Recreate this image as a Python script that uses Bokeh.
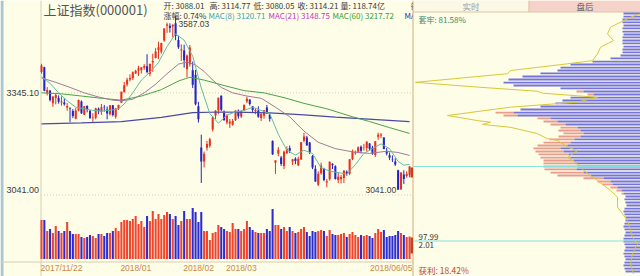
from bokeh.plotting import figure
from bokeh.models import Range1d, ColumnDataSource
from bokeh.core.properties import value
from bokeh.embed import file_html
from bokeh.resources import INLINE

# ---------------- data ----------------
opens = [3410, 3425, 3345, 3352, 3312, 3329, 3329, 3315, 3315, 3299,
         3296, 3288, 3264, 3290, 3318, 3276, 3304, 3289, 3265, 3267,
         3295, 3286, 3298, 3293, 3278, 3306, 3270, 3295, 3314, 3347,
         3371, 3387, 3391, 3406, 3414, 3416, 3424, 3428, 3405, 3440,
         3454, 3479, 3474, 3509, 3555, 3555, 3553, 3563, 3511, 3478,
         3478, 3419, 3435, 3416, 3402, 3303, 3174, 3130, 3173, 3179,
         3230, 3274, 3290, 3336, 3282, 3252, 3249, 3245, 3259, 3289,
         3271, 3289, 3318, 3324, 3303, 3287, 3290, 3266, 3273, 3299,
         3276, 3194, 3126, 3155, 3142, 3116, 3155, 3172, 3130, 3139,
         3118, 3136, 3195, 3205, 3189, 3147, 3107, 3057, 3093, 3107,
         3064, 3074, 3123, 3115, 3072, 3074, 3078, 3098, 3091, 3137,
         3156, 3160, 3176, 3173, 3172, 3186, 3173, 3150, 3207, 3211,
         3205, 3163, 3149, 3136, 3130, 3102, 3042, 3089, 3084, 3088.01]
highs = [3436, 3427, 3363, 3353, 3334, 3343, 3337, 3334, 3328, 3313,
         3300, 3294, 3297, 3324, 3321, 3304, 3306, 3291, 3281, 3298,
         3299, 3310, 3307, 3302, 3306, 3307, 3297, 3308, 3349, 3379,
         3392, 3403, 3412, 3417, 3430, 3426, 3435, 3466, 3436, 3468,
         3485, 3505, 3502, 3547, 3565, 3563, 3560, 3587.03, 3524, 3497,
         3496, 3465, 3495, 3443, 3417, 3317, 3214, 3161, 3194, 3204,
         3272, 3291, 3330, 3337, 3290, 3278, 3263, 3263, 3290, 3293,
         3289, 3309, 3333, 3325, 3304, 3297, 3303, 3281, 3291, 3307,
         3280, 3196, 3133, 3175, 3147, 3164, 3177, 3180, 3138, 3143,
         3145, 3191, 3220, 3210, 3191, 3150, 3118, 3099, 3126, 3110,
         3075, 3130, 3124, 3118, 3095, 3088, 3103, 3102, 3137, 3167,
         3164, 3177, 3180, 3185, 3192, 3188, 3179, 3194, 3220, 3219,
         3206, 3172, 3158, 3149, 3140, 3104, 3096, 3102, 3099, 3114.77]
lows = [3405, 3350, 3337, 3318, 3301, 3309, 3311, 3305, 3305, 3289,
        3254, 3266, 3262, 3287, 3279, 3275, 3284, 3263, 3254, 3262,
        3278, 3276, 3286, 3262, 3274, 3271, 3264, 3291, 3314, 3346,
        3365, 3381, 3385, 3404, 3398, 3406, 3417, 3406, 3397, 3411,
        3453, 3451, 3468, 3505, 3533, 3534, 3519, 3510, 3483, 3445,
        3424, 3394, 3427, 3360, 3306, 3252, 3062.7, 3111, 3164, 3173,
        3224, 3263, 3278, 3288, 3258, 3246, 3235, 3242, 3257, 3264,
        3266, 3289, 3313, 3305, 3282, 3278, 3267, 3257, 3264, 3279,
        3255, 3150, 3091, 3146, 3116, 3106, 3155, 3156, 3119, 3121,
        3115, 3135, 3190, 3180, 3153, 3106, 3066, 3053, 3088, 3068,
        3049, 3070, 3106, 3073, 3062, 3061, 3062, 3085, 3087, 3134,
        3151, 3156, 3155, 3164, 3161, 3164, 3151, 3144, 3198, 3203,
        3168, 3149, 3134, 3128, 3116, 3041.00, 3042, 3059, 3079, 3080.05]
closes = [3430.5, 3351.9, 3353.8, 3322.2, 3333.7, 3337.9, 3317.2, 3317.6, 3309.6, 3303.7,
          3294.0, 3272.1, 3289.5, 3322.2, 3280.8, 3303.0, 3292.4, 3266.1, 3267.9, 3296.4,
          3287.6, 3300.1, 3297.1, 3280.5, 3306.1, 3275.8, 3296.4, 3307.2, 3348.3, 3369.1,
          3385.7, 3391.8, 3409.5, 3413.9, 3421.8, 3425.3, 3428.9, 3410.5, 3436.6, 3444.7,
          3474.8, 3487.9, 3501.4, 3546.5, 3559.5, 3548.3, 3558.1, 3523.0, 3488.0, 3480.8,
          3447.0, 3462.1, 3487.5, 3370.7, 3309.3, 3262.1, 3129.9, 3154.1, 3185.0, 3199.2,
          3268.6, 3289.0, 3329.6, 3292.1, 3259.4, 3273.8, 3254.5, 3256.9, 3289.6, 3271.7,
          3288.4, 3307.2, 3326.7, 3310.2, 3291.4, 3291.1, 3269.9, 3279.3, 3290.6, 3281.0,
          3263.5, 3152.8, 3133.7, 3166.7, 3122.3, 3160.5, 3168.9, 3163.2, 3136.6, 3131.1,
          3138.3, 3190.3, 3208.1, 3180.2, 3159.1, 3110.7, 3066.8, 3091.4, 3117.4, 3071.5,
          3068.0, 3128.9, 3118.0, 3075.0, 3082.2, 3081.2, 3100.9, 3091.0, 3136.6, 3161.5,
          3159.2, 3174.4, 3163.3, 3174.0, 3192.1, 3169.6, 3154.3, 3193.3, 3213.8, 3214.4,
          3169.0, 3154.7, 3141.3, 3135.1, 3120.5, 3041.4, 3095.5, 3075.1, 3091.2, 3114.21]
volumes = [207, 207, 148, 159, 138, 175, 148, 138, 148, 196,
           148, 132, 132, 132, 117, 111, 117, 127, 122, 111,
           132, 132, 122, 138, 138, 148, 164, 148, 196, 207,
           207, 201, 212, 228, 186, 201, 170, 228, 201, 254,
           212, 239, 212, 233, 249, 239, 212, 228, 180, 201,
           254, 212, 212, 270, 249, 196, 249, 148, 148, 101,
           138, 143, 180, 170, 159, 148, 143, 191, 159, 159,
           148, 159, 201, 170, 154, 143, 138, 138, 138, 159,
           148, 265, 180, 180, 159, 170, 148, 170, 148, 138,
           143, 159, 170, 143, 122, 148, 143, 148, 154, 148,
           122, 154, 132, 127, 127, 132, 138, 117, 132, 143,
           127, 117, 127, 122, 127, 122, 111, 138, 159, 143,
           154, 117, 122, 122, 127, 148, 138, 127, 117, 118.74]

date_labels = ["2017/11/22", "2018/01", "2018/02", "2018/03", "2018/06/05"]
date_label_idx = [0, 28, 50, 65, 129]
price_ticks = [3345.10, 3041.00]

# moving averages (candle index, value)
ma8_idx = [0, 3, 6, 9, 12, 15, 18, 21, 24, 27, 29, 32, 35, 38, 41, 44, 47, 50, 53, 56,
           59, 62, 65, 68, 71, 74, 77, 80, 83, 86, 89, 92, 95, 98, 101, 104, 107, 110,
           113, 116, 119, 122, 125, 127, 129]
ma8_val = [3395, 3375, 3345, 3320, 3300, 3295, 3290, 3288, 3290, 3295, 3310, 3345, 3385,
           3410, 3440, 3490, 3530, 3510, 3460, 3360, 3280, 3250, 3275, 3285, 3290, 3300,
           3290, 3280, 3215, 3165, 3150, 3165, 3155, 3110, 3100, 3095, 3090, 3120, 3155,
           3170, 3185, 3170, 3130, 3118, 3120.71]
ma21_idx = [0, 5, 10, 15, 20, 25, 28, 32, 36, 40, 44, 48, 51, 54, 57, 60, 63, 67, 72, 77,
            82, 87, 92, 97, 103, 109, 115, 121, 125, 129]
ma21_val = [3392, 3378, 3362, 3345, 3332, 3322, 3320, 3325, 3345, 3372, 3405, 3435, 3442,
            3432, 3412, 3385, 3362, 3345, 3335, 3328, 3300, 3270, 3225, 3190, 3170, 3160,
            3155, 3162, 3158, 3148.75]
ma60_idx = [0, 7, 14, 21, 28, 35, 42, 48, 52, 57, 64, 71, 78, 85, 92, 100, 109, 115, 122, 129]
ma60_val = [3345, 3342, 3335, 3328, 3322, 3335, 3355, 3382, 3394, 3385, 3368, 3352, 3345,
            3330, 3312, 3295, 3270, 3255, 3236, 3217.72]
malong_idx = [0, 14, 28, 42, 53, 63, 72, 80, 92, 103, 116, 129]
malong_val = [3248, 3251, 3255, 3268, 3283, 3285, 3284, 3282, 3276, 3269, 3262, 3255]

# chip distribution: price level, total chip, recent (pink) part
chip_price = [3594, 3584, 3575, 3566, 3556, 3547, 3537, 3528, 3519, 3509,
              3500, 3490, 3481, 3472, 3462, 3453, 3443, 3434, 3424, 3415,
              3406, 3396, 3387, 3377, 3368, 3359, 3349, 3340, 3330, 3321,
              3312, 3302, 3293, 3283, 3274, 3265, 3255, 3246, 3236, 3227,
              3218, 3208, 3199, 3189, 3180, 3171, 3161, 3152, 3142, 3133,
              3124, 3114, 3105, 3095, 3086, 3077, 3067, 3058, 3048, 3039,
              3029, 3020, 3011, 3001, 2992, 2982, 2973, 2964, 2954, 2945,
              2935, 2926, 2917, 2907, 2898, 2888, 2879, 2870, 2860, 2851,
              2841, 2832, 2823, 2813, 2804, 2794, 2785]
chip_old = [17, 17, 18, 18, 17, 18, 18, 17, 18, 18,
            18, 17, 18, 18, 20, 30, 48, 70, 80, 83,
            100, 118, 132, 137, 127, 80, 57, 47, 70, 78,
            85, 100, 120, 127, 123, 90, 83, 75, 63, 60,
            57, 60, 66, 70, 73, 80, 77, 72, 70, 67,
            65, 63, 64, 57, 50, 37, 30, 28, 23, 19,
            17, 15, 16, 15, 14, 16, 17, 16, 15, 15,
            16, 17, 16, 15, 16, 17, 17, 16, 15, 16,
            17, 16, 15, 16, 17, 16, 15]
chip_new = [0, 0, 0, 0, 0, 0, 0, 0, 0, 0,
            0, 0, 0, 0, 0, 0, 0, 0, 0, 0,
            0, 0, 0, 0, 0, 0, 7, 6, 0, 0,
            0, 0, 0, 18, 14, 13, 14, 15, 17, 22,
            20, 22, 25, 27, 30, 27, 28, 30, 30, 30,
            32, 34, 32, 33, 33, 20, 13, 10, 7, 5,
            2, 0, 0, 0, 0, 0, 0, 0, 0, 0,
            0, 0, 0, 0, 0, 0, 0, 0, 0, 0,
            0, 0, 0, 0, 0, 0, 0]
prev_price = [3593, 3582, 3551, 3530, 3509, 3488, 3467, 3446, 3436, 3415, 3405, 3378,
              3363, 3350, 3344, 3331, 3316, 3300, 3274, 3258, 3253, 3246, 3237, 3217,
              3201, 3196, 3175, 3164, 3143, 3123, 3102, 3070, 3039, 3018, 2987, 2945,
              2892, 2872, 2840, 2809, 2778]
prev_amount = [0, 10, 30, 33, 27, 40, 43, 48, 73, 130, 133, 225,
               163, 103, 98, 43, 63, 130, 193, 163, 150, 158, 130, 103,
               93, 83, 73, 63, 73, 63, 57, 43, 30, 23, 23, 13,
               8, 3, 8, 10, 7]

# ---------------- layout constants ----------------
W, H = 640, 276
X0, DX = 41.0, 2.853          # first candle pixel, pitch
P_TOP, PPX = 3634.5, 3.135    # price at top edge, price per pixel
VOL_BASE, VPX = 258.5, 5.3    # volume baseline pixel, volume per pixel
SPLIT = 412.5                 # left/right panel border

BG = "#fdfde8"
RED, BLUE = "#e8301c", "#2424c8"
VRED, VBLUE = "#f0442c", "#2c2cd4"
GRIDC = "#d9cfae"

p = figure(width=W, height=H, output_backend="svg", toolbar_location=None,
           x_axis_type=None, y_axis_type=None,
           x_range=Range1d(-X0 / DX, (W - X0) / DX),
           y_range=Range1d(P_TOP - H * PPX, P_TOP),
           min_border=0, outline_line_color=None,
           background_fill_color=BG, border_fill_color=BG)
p.grid.visible = False
p.extra_x_ranges = {"px": Range1d(0, W), "chip": Range1d(W, 0)}
p.extra_y_ranges = {"py": Range1d(H, 0),
                    "vol": Range1d(-(H - VOL_BASE) * VPX, VOL_BASE * VPX)}

CJK = "Noto Sans CJK SC"
LAT = "Liberation Sans"


def txt(x, y, s, color, size, font=LAT, align="left", baseline="middle",
        xr="px", yr="py", xo=0, yo=0):
    p.text(x=[x], y=[y], text=[s], text_color=color, text_font=value(font),
           text_font_size=size, text_align=align, text_baseline=baseline,
           x_offset=xo, y_offset=yo, x_range_name=xr, y_range_name=yr)


def hline(y, x0, x1, color, dash="solid", yr="py", width=1):
    p.segment(x0=[x0], y0=[y], x1=[x1], y1=[y], line_color=color, line_dash=dash,
              line_width=width, x_range_name="px", y_range_name=yr)


def vline(x, y0, y1, color, width=1):
    p.segment(x0=[x], y0=[y0], x1=[x], y1=[y1], line_color=color, line_width=width,
              x_range_name="px", y_range_name="py")


# frame decorations
p.quad(left=[0], right=[3], bottom=[H], top=[0], fill_color="#a9c6d6", line_color=None,
       x_range_name="px", y_range_name="py")
vline(40.5, 0, H, GRIDC)
hline(price_ticks[0], 40.5, SPLIT, GRIDC, dash="1 2", yr="default")
hline(194.5, 40.5, SPLIT, GRIDC, dash="1 2")
hline(261.5, 0, SPLIT, GRIDC)

# candles
idx = list(range(len(closes)))
ccol = [RED if c >= o else BLUE for o, c in zip(opens, closes)]
vcol = [VRED if c >= o else VBLUE for o, c in zip(opens, closes)]
src = ColumnDataSource(dict(x=idx, h=highs, l=lows,
                            top=[max(o, c) for o, c in zip(opens, closes)],
                            bot=[min(o, c) for o, c in zip(opens, closes)],
                            col=ccol, vcol=vcol, vol=volumes))
p.segment(x0="x", y0="l", x1="x", y1="h", line_color="col", line_width=1, source=src)
p.vbar(x="x", width=0.72, top="top", bottom="bot", fill_color="col", line_color=None,
       source=src)
p.vbar(x="x", width=0.72, top="vol", bottom=0, fill_color="vcol", line_color=None,
       source=src, y_range_name="vol")

# moving averages
p.line(malong_idx, malong_val, line_color="#4a4aa6", line_width=1.2)
p.line(ma60_idx, ma60_val, line_color="#4aa24a", line_width=1)
p.line(ma21_idx, ma21_val, line_color="#a27a9c", line_width=1)
p.line(ma8_idx, ma8_val, line_color="#62bca2", line_width=1)

# price axis labels
for t in price_ticks:
    p.text(x=[38.5], y=[t], text=["%.2f" % t], text_color="#3c3c3c",
           text_font=value(LAT), text_font_size="9px", text_align="right",
           text_baseline="middle", x_range_name="px")

# date labels
for i, (lab, k) in enumerate(zip(date_labels, date_label_idx)):
    last = i == len(date_labels) - 1
    p.text(x=[k], y=[267.5], text=[lab], text_color="#cc8a48",
           text_font=value(LAT), text_font_size="8.5px",
           text_align="right" if last else "left", text_baseline="middle",
           x_offset=3 if last else -1, y_range_name="py")

# extreme labels
imax = highs.index(max(highs))
imin = lows.index(min(lows))
p.text(x=[imax], y=[highs[imax]], text=["%.2f" % highs[imax]], text_color="#3c3c3c",
       text_font=value(LAT), text_font_size="8.5px", text_align="left",
       text_baseline="middle", x_offset=3, y_offset=8)
p.text(x=[imin], y=[lows[imin]], text=["%.2f" % lows[imin]], text_color="#3c3c3c",
       text_font=value(LAT), text_font_size="8.5px", text_align="right",
       text_baseline="middle", x_offset=-2, y_offset=0)

# title & info lines
txt(43, 8.5, "上证指数(000001)", "#555555", "13px", font=CJK)
info1 = [("开: %.2f" % opens[-1], 163), ("高: %.2f" % highs[-1], 209),
         ("低: %.2f" % lows[-1], 253), ("收: %.2f" % closes[-1], 297),
         ("量: %.2f亿" % volumes[-1], 340), ("备", 410)]
for s, x in info1:
    txt(x, 4.5, s, "#3a3a3a", "8px", font=CJK)
chg = (closes[-1] / closes[-2] - 1) * 100
txt(163, 14.5, "涨幅: %.2f%%" % chg, "#3a3a3a", "8px", font=CJK)
txt(208, 14.5, "MAC(8) %.2f" % ma8_val[-1], "#3aa2b4", "8px", font=CJK)
txt(268, 14.5, "MAC(21) %.2f" % ma21_val[-1], "#c636c0", "8px", font=CJK)
txt(332, 14.5, "MAC(60) %.2f" % ma60_val[-1], "#34a034", "8px", font=CJK)
txt(404, 14.5, "MA", "#3030b4", "8px", font=CJK)

# ---------------- right panel ----------------
p.quad(left=[SPLIT], right=[W], bottom=[H], top=[0], fill_color=BG, line_color=None,
       x_range_name="px", y_range_name="py")
p.quad(left=[SPLIT], right=[528], bottom=[11.5], top=[0], fill_color="#fbf8e6",
       line_color=None, x_range_name="px", y_range_name="py")
p.quad(left=[528], right=[W], bottom=[11.5], top=[0], fill_color="#f5d2ca",
       line_color=None, x_range_name="px", y_range_name="py")
hline(11.5, SPLIT, W, "#dcc4a4")
vline(528.5, 0, 11.5, "#dcc4a4")
vline(SPLIT, 0, H, "#d9aa7c")
txt(470.5, 5.5, "实时", "#9a9a9a", "8.5px", font=CJK, align="center")
txt(584.5, 5.5, "盘后", "#5a5a5a", "8.5px", font=CJK, align="center")

# chip bars
chip_total = [a + b for a, b in zip(chip_old, chip_new)]
csrc = ColumnDataSource(dict(y=chip_price, old=chip_old, tot=chip_total))
p.hbar(y="y", left="old", right="tot", height=6.0, fill_color="#e89c8a",
       line_color=None, source=csrc, x_range_name="chip")
p.hbar(y="y", left=0, right="old", height=6.0, fill_color="#7474dc",
       line_color=None, source=csrc, x_range_name="chip")
p.line(prev_amount, prev_price, line_color="#d8c838", line_width=1,
       x_range_name="chip")

# current price line and cost band
p.segment(x0=[SPLIT], y0=[closes[-1]], x1=[W], y1=[closes[-1]], line_color="#86e2e2",
          line_width=1, x_range_name="px")
hline(240.5, SPLIT, W, "#86e2e2")
p.quad(left=[410], right=[SPLIT], bottom=[177], top=[167], fill_color="#c8401c",
       line_color=None, x_range_name="px", y_range_name="py")
p.quad(left=[410], right=[SPLIT], bottom=[253], top=[237], fill_color="#c8401c",
       line_color=None, x_range_name="px", y_range_name="py")

txt(418, 18.5, "套牢: 81.58%", "#3f8a6c", "8px", font=CJK)
txt(418, 236, "97.99", "#3a3a3a", "8px", font=CJK)
txt(418, 244, "2.01", "#3a3a3a", "8px", font=CJK)
txt(418, 269.5, "获利: 18.42%", "#c4461e", "8.5px", font=CJK)

open("out.html", "w").write(file_html(p, INLINE))
